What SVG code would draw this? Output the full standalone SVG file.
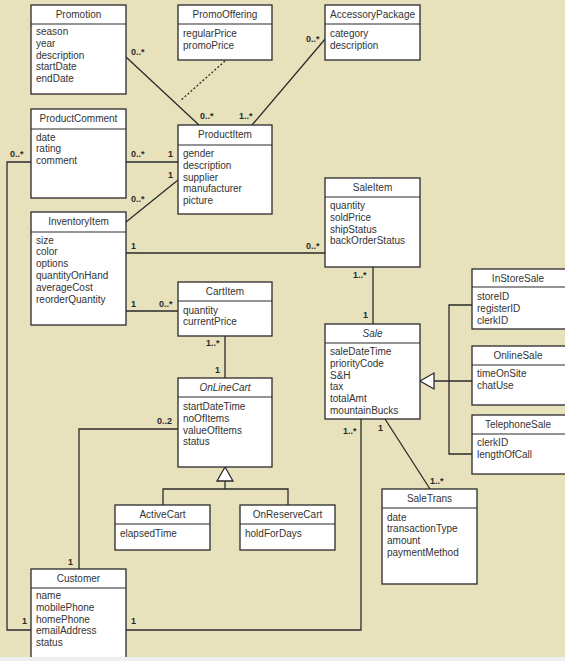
<svg xmlns="http://www.w3.org/2000/svg" width="565" height="661" viewBox="0 0 565 661">
<style>
.box{fill:#fff;stroke:#2a2a2a;stroke-width:1.3}
.div{stroke:#2a2a2a;stroke-width:1.1}
.t{font-family:"Liberation Sans",Arial,sans-serif;font-size:10px;fill:#333}
.c{text-anchor:middle}
.i{font-style:italic}
.lb{font-family:"Liberation Sans",Arial,sans-serif;font-size:9px;font-weight:bold;fill:#2a2a2a}
.ln{fill:none;stroke:#2a2a2a;stroke-width:1.3}
.dot{fill:none;stroke:#2a2a2a;stroke-width:1.3;stroke-dasharray:2,2}
.tri{fill:#fff;stroke:#2a2a2a;stroke-width:1.3}
</style>
<rect x="0" y="0" width="565" height="661" fill="#e8e2bc"/>

<g id="connectors">
<line class="ln" x1="126" y1="57" x2="199" y2="125"/>
<line class="dot" x1="225" y1="61" x2="180" y2="101"/>
<line class="ln" x1="326" y1="38" x2="252" y2="125"/>
<line class="ln" x1="126" y1="162" x2="178" y2="162"/>
<line class="ln" x1="126" y1="222" x2="178" y2="180"/>
<line class="ln" x1="126" y1="253" x2="325" y2="253"/>
<line class="ln" x1="126" y1="311" x2="178" y2="311"/>
<line class="ln" x1="225" y1="336" x2="225" y2="378"/>
<line class="ln" x1="373" y1="267" x2="373" y2="324"/>
<line class="ln" x1="385" y1="419" x2="430" y2="489"/>
<polyline class="ln" points="361,419 361,630 126,630"/>
<polyline class="ln" points="178,429 79,429 79,569"/>
<polyline class="ln" points="31,162 7,162 7,630 31,630"/>
<polyline class="ln" points="472,305 449,305 449,454 472,454"/>
<line class="ln" x1="434" y1="381" x2="472" y2="381"/>
<polygon class="tri" points="420,381 434,373 434,389"/>
<polyline class="ln" points="163,505 163,489 288,489 288,505"/>
<line class="ln" x1="225" y1="481" x2="225" y2="489"/>
<polygon class="tri" points="225,467 217,481 233,481"/>
<text class="lb" x="131" y="55">0..*</text>
<text class="lb" x="200" y="119">0..*</text>
<text class="lb" x="239" y="119">1..*</text>
<text class="lb" x="306" y="42">0..*</text>
<text class="lb" x="131" y="157">0..*</text>
<text class="lb" x="168" y="157">1</text>
<text class="lb" x="168" y="178">1</text>
<text class="lb" x="131" y="202">0..*</text>
<text class="lb" x="10" y="157">0..*</text>
<text class="lb" x="131" y="249">1</text>
<text class="lb" x="306" y="249">0..*</text>
<text class="lb" x="131" y="307">1</text>
<text class="lb" x="159" y="307">0..*</text>
<text class="lb" x="206" y="346">1..*</text>
<text class="lb" x="215" y="373">1</text>
<text class="lb" x="157" y="424">0..2</text>
<text class="lb" x="353" y="278">1..*</text>
<text class="lb" x="363" y="318">1</text>
<text class="lb" x="343" y="434">1..*</text>
<text class="lb" x="378" y="431">1</text>
<text class="lb" x="430" y="484">1..*</text>
<text class="lb" x="68" y="565">1</text>
<text class="lb" x="22" y="624">1</text>
<text class="lb" x="131" y="624">1</text>
</g>

<g id="Promotion">
<rect class="box" x="31" y="5" width="95" height="89"/>
<line class="div" x1="31" y1="24" x2="126" y2="24"/>
<text class="t c" x="78.5" y="18">Promotion</text>
<text class="t" x="36" y="35">season</text>
<text class="t" x="36" y="46.8">year</text>
<text class="t" x="36" y="58.6">description</text>
<text class="t" x="36" y="70.4">startDate</text>
<text class="t" x="36" y="82.2">endDate</text>
</g>

<g id="PromoOffering">
<rect class="box" x="178" y="5" width="94" height="55"/>
<line class="div" x1="178" y1="24" x2="272" y2="24"/>
<text class="t c" x="225" y="18">PromoOffering</text>
<text class="t" x="183" y="37">regularPrice</text>
<text class="t" x="183" y="48.8">promoPrice</text>
</g>

<g id="AccessoryPackage">
<rect class="box" x="325" y="5" width="95" height="55"/>
<line class="div" x1="325" y1="24" x2="420" y2="24"/>
<text class="t c" x="372.5" y="18">AccessoryPackage</text>
<text class="t" x="330" y="37">category</text>
<text class="t" x="330" y="48.8">description</text>
</g>

<g id="ProductComment">
<rect class="box" x="31" y="109" width="95" height="89"/>
<line class="div" x1="31" y1="129" x2="126" y2="129"/>
<text class="t c" x="78.5" y="122">ProductComment</text>
<text class="t" x="36" y="140.5">date</text>
<text class="t" x="36" y="152.3">rating</text>
<text class="t" x="36" y="164.1">comment</text>
</g>

<g id="ProductItem">
<rect class="box" x="178" y="125" width="94" height="89"/>
<line class="div" x1="178" y1="145" x2="272" y2="145"/>
<text class="t c" x="225" y="138">ProductItem</text>
<text class="t" x="183" y="157">gender</text>
<text class="t" x="183" y="168.8">description</text>
<text class="t" x="183" y="180.6">supplier</text>
<text class="t" x="183" y="192.4">manufacturer</text>
<text class="t" x="183" y="204.2">picture</text>
</g>

<g id="SaleItem">
<rect class="box" x="325" y="178" width="95" height="89"/>
<line class="div" x1="325" y1="197" x2="420" y2="197"/>
<text class="t c" x="372.5" y="191">SaleItem</text>
<text class="t" x="330" y="209">quantity</text>
<text class="t" x="330" y="220.8">soldPrice</text>
<text class="t" x="330" y="232.6">shipStatus</text>
<text class="t" x="330" y="244.4">backOrderStatus</text>
</g>

<g id="InventoryItem">
<rect class="box" x="31" y="212" width="95" height="113"/>
<line class="div" x1="31" y1="232" x2="126" y2="232"/>
<text class="t c" x="78.5" y="225">InventoryItem</text>
<text class="t" x="36" y="243.5">size</text>
<text class="t" x="36" y="255.3">color</text>
<text class="t" x="36" y="267.1">options</text>
<text class="t" x="36" y="278.9">quantityOnHand</text>
<text class="t" x="36" y="290.7">averageCost</text>
<text class="t" x="36" y="302.5">reorderQuantity</text>
</g>

<g id="CartItem">
<rect class="box" x="178" y="282" width="94" height="54"/>
<line class="div" x1="178" y1="301" x2="272" y2="301"/>
<text class="t c" x="225" y="295">CartItem</text>
<text class="t" x="183" y="313.5">quantity</text>
<text class="t" x="183" y="325.3">currentPrice</text>
</g>

<g id="OnLineCart">
<rect class="box" x="178" y="378" width="94" height="89"/>
<line class="div" x1="178" y1="397" x2="272" y2="397"/>
<text class="t c i" x="225" y="391">OnLineCart</text>
<text class="t" x="183" y="410">startDateTime</text>
<text class="t" x="183" y="421.8">noOfItems</text>
<text class="t" x="183" y="433.6">valueOfItems</text>
<text class="t" x="183" y="445.4">status</text>
</g>

<g id="Sale">
<rect class="box" x="325" y="324" width="95" height="95"/>
<line class="div" x1="325" y1="343" x2="420" y2="343"/>
<text class="t c i" x="372.5" y="337">Sale</text>
<text class="t" x="330" y="355">saleDateTime</text>
<text class="t" x="330" y="366.8">priorityCode</text>
<text class="t" x="330" y="378.6">S&amp;H</text>
<text class="t" x="330" y="390.4">tax</text>
<text class="t" x="330" y="402.2">totalAmt</text>
<text class="t" x="330" y="414">mountainBucks</text>
</g>

<g id="InStoreSale">
<rect class="box" x="472" y="269" width="100" height="60"/>
<line class="div" x1="472" y1="287" x2="572" y2="287"/>
<text class="t c" x="518" y="282">InStoreSale</text>
<text class="t" x="477" y="300">storeID</text>
<text class="t" x="477" y="311.8">registerID</text>
<text class="t" x="477" y="323.6">clerkID</text>
</g>

<g id="OnlineSale">
<rect class="box" x="472" y="346" width="100" height="59"/>
<line class="div" x1="472" y1="365" x2="572" y2="365"/>
<text class="t c" x="518" y="359">OnlineSale</text>
<text class="t" x="477" y="377">timeOnSite</text>
<text class="t" x="477" y="388.8">chatUse</text>
</g>

<g id="TelephoneSale">
<rect class="box" x="472" y="415" width="100" height="59"/>
<line class="div" x1="472" y1="434" x2="572" y2="434"/>
<text class="t c" x="518" y="428">TelephoneSale</text>
<text class="t" x="477" y="446">clerkID</text>
<text class="t" x="477" y="457.8">lengthOfCall</text>
</g>

<g id="SaleTrans">
<rect class="box" x="382" y="489" width="95" height="95"/>
<line class="div" x1="382" y1="508" x2="477" y2="508"/>
<text class="t c" x="429.5" y="502">SaleTrans</text>
<text class="t" x="387" y="520.5">date</text>
<text class="t" x="387" y="532.3">transactionType</text>
<text class="t" x="387" y="544.1">amount</text>
<text class="t" x="387" y="555.9">paymentMethod</text>
</g>

<g id="ActiveCart">
<rect class="box" x="115" y="505" width="95" height="45"/>
<line class="div" x1="115" y1="524" x2="210" y2="524"/>
<text class="t c" x="162.5" y="518">ActiveCart</text>
<text class="t" x="120" y="536.5">elapsedTime</text>
</g>

<g id="OnReserveCart">
<rect class="box" x="240" y="505" width="95" height="45"/>
<line class="div" x1="240" y1="524" x2="335" y2="524"/>
<text class="t c" x="287.5" y="518">OnReserveCart</text>
<text class="t" x="245" y="536.5">holdForDays</text>
</g>

<g id="Customer">
<rect class="box" x="31" y="569" width="95" height="100"/>
<line class="div" x1="31" y1="588" x2="126" y2="588"/>
<text class="t c" x="78.5" y="582">Customer</text>
<text class="t" x="36" y="599">name</text>
<text class="t" x="36" y="610.8">mobilePhone</text>
<text class="t" x="36" y="622.6">homePhone</text>
<text class="t" x="36" y="634.4">emailAddress</text>
<text class="t" x="36" y="646.2">status</text>
</g>

<rect x="0" y="657" width="565" height="4" fill="#efefef"/>
</svg>
